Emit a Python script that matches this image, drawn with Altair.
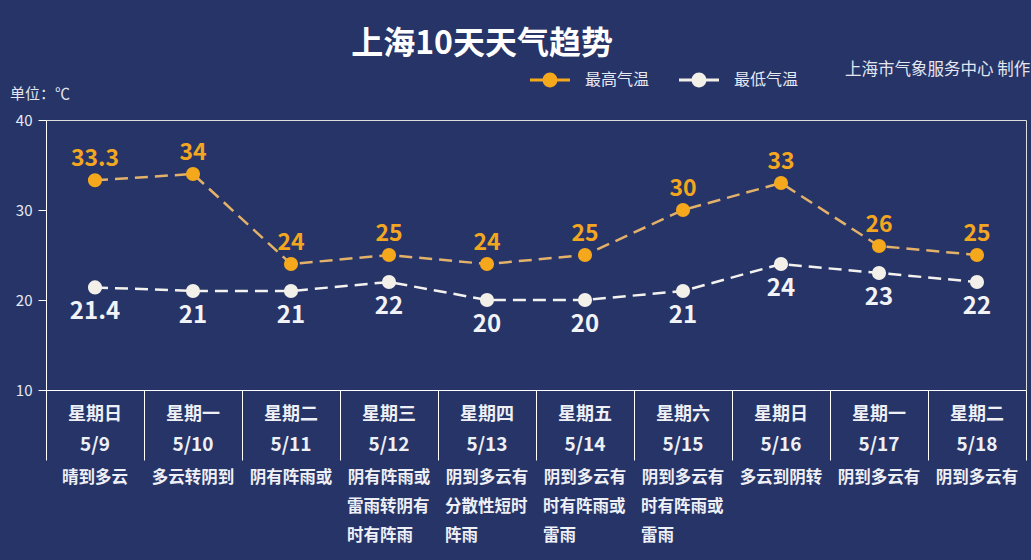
import altair as alt
import pandas as pd

# ---------------- data ----------------
title_text = "上海10天天气趋势"
unit_text = "单位：℃"
credit_text = "上海市气象服务中心 制作"
series_names = ["最高气温", "最低气温"]
dates = ["5/9", "5/10", "5/11", "5/12", "5/13", "5/14", "5/15", "5/16", "5/17", "5/18"]
weekdays = ["星期日", "星期一", "星期二", "星期三", "星期四", "星期五", "星期六", "星期日", "星期一", "星期二"]
high = [33.3, 34, 24, 25, 24, 25, 30, 33, 26, 25]
low = [21.4, 21, 21, 22, 20, 20, 21, 24, 23, 22]
desc1 = ["晴到多云", "多云转阴到", "阴有阵雨或", "阴有阵雨或", "阴到多云有", "阴到多云有",
         "阴到多云有", "多云到阴转", "阴到多云有", "阴到多云有"]
desc2 = ["", "", "", "雷雨转阴有", "分散性短时", "时有阵雨或", "时有阵雨或", "", "", ""]
desc3 = ["", "", "", "时有阵雨", "阵雨", "雷雨", "雷雨", "", "", ""]
y_ticks = [10, 20, 30, 40]

FONT = "Noto Sans CJK SC"
BG = "#263468"

days = pd.DataFrame({"date": dates, "weekday": weekdays, "high": high, "low": low,
                     "d1": desc1, "d2": desc2, "d3": desc3, "idx": list(range(len(dates)))})
long = pd.concat([
    pd.DataFrame({"date": dates, "value": high, "series": series_names[0], "idx": list(range(len(dates)))}),
    pd.DataFrame({"date": dates, "value": low, "series": series_names[1], "idx": list(range(len(dates)))}),
])
long["line_series"] = long["series"]

x_axis = alt.Axis(title=None, labels=False, tickBand="extent", tickSize=70, tickColor="#ffffff",
                  tickWidth=1, domainColor="#ffffff", domainWidth=1, grid=False)
x_enc = alt.X("date:N", sort=dates,
              scale=alt.Scale(type="band", domain=dates, paddingInner=0, paddingOuter=0),
              axis=x_axis)
y_axis = alt.Axis(title=None, values=y_ticks, grid=False, tickSize=8, tickColor="#ffffff",
                  domainColor="#ffffff", labelColor="#e8eaf2", labelFontSize=15, labelPadding=6,
                  labelFont=FONT)
y_scale = alt.Scale(domain=[10, 40], nice=False, zero=False)

legend_symbol = ("M-1,-0.07L-0.36,-0.07L-0.36,0.07L-1,0.07Z "
                 "M0.36,-0.07L1,-0.07L1,0.07L0.36,0.07Z "
                 "M0.37,0A0.37,0.37,0,1,1,-0.37,0A0.37,0.37,0,1,1,0.37,0Z")

lines = alt.Chart(long).mark_line(strokeWidth=2.5, strokeDash=[13, 7]).encode(
    x=x_enc,
    y=alt.Y("value:Q", scale=y_scale, axis=y_axis),
    stroke=alt.Stroke("line_series:N",
                      scale=alt.Scale(domain=series_names, range=["#e3b169", "#f4f2ee"]),
                      legend=None),
    order=alt.Order("idx:Q"),
)

points = alt.Chart(long).mark_circle(size=200, opacity=1).encode(
    x=x_enc,
    y=alt.Y("value:Q", scale=y_scale, axis=y_axis),
    fill=alt.Fill("series:N", scale=alt.Scale(domain=series_names, range=["#f5a81c", "#f3f0ea"]),
                  legend=alt.Legend(orient="none", legendX=484, legendY=-60, direction="horizontal",
                                    title=None, symbolType=legend_symbol, symbolSize=1600,
                                    symbolStrokeWidth=0, symbolOpacity=1, labelFontSize=16,
                                    labelColor="#e6e9f2", labelFont=FONT, labelOffset=15,
                                    columnPadding=29, padding=0)),
)

high_lbl = alt.Chart(days).mark_text(font=FONT, fontSize=23, fontWeight="bold", color="#f3a620",
                                     dy=-14, baseline="alphabetic").encode(
    x=x_enc, y=alt.Y("high:Q", scale=y_scale, axis=y_axis), text=alt.Text("high:Q"))
low_lbl = alt.Chart(days).mark_text(font=FONT, fontSize=24, fontWeight="bold", color="#f2f3f7",
                                    dy=32, baseline="alphabetic").encode(
    x=x_enc, y=alt.Y("low:Q", scale=y_scale, axis=y_axis), text=alt.Text("low:Q"))

wd_lbl = alt.Chart(days).mark_text(font=FONT, fontSize=18, fontWeight="bold", color="#eef0f6",
                                   baseline="middle").encode(x=x_enc, y=alt.value(295), text="weekday:N")
date_lbl = alt.Chart(days).mark_text(font=FONT, fontSize=19, fontWeight="bold", color="#eef0f6",
                                     baseline="middle").encode(x=x_enc, y=alt.value(325), text="date:N")
d1_lbl = alt.Chart(days).mark_text(font=FONT, fontSize=16.5, fontWeight="bold", color="#eef0f6",
                                   baseline="middle").encode(x=x_enc, y=alt.value(358), text="d1:N")
d2_lbl = alt.Chart(days).mark_text(font=FONT, fontSize=16.5, fontWeight="bold", color="#eef0f6",
                                   baseline="middle", align="left", dx=-42).encode(
    x=x_enc, y=alt.value(387), text="d2:N")
d3_lbl = alt.Chart(days).mark_text(font=FONT, fontSize=16.5, fontWeight="bold", color="#eef0f6",
                                   baseline="middle", align="left", dx=-42).encode(
    x=x_enc, y=alt.value(416), text="d3:N")

title = alt.Chart(pd.DataFrame({"t": [title_text]})).mark_text(
    font=FONT, fontSize=32, fontWeight="bold", color="#ffffff", align="center", baseline="alphabetic"
).encode(x=alt.value(436), y=alt.value(-66), text="t:N")
unit = alt.Chart(pd.DataFrame({"t": [unit_text]})).mark_text(
    font=FONT, fontSize=15, color="#e3e6ef", align="left", baseline="alphabetic"
).encode(x=alt.value(-36), y=alt.value(-21), text="t:N")
credit = alt.Chart(pd.DataFrame({"t": [credit_text]})).mark_text(
    font=FONT, fontSize=16.5, color="#e3e6ef", align="left", baseline="alphabetic"
).encode(x=alt.value(799), y=alt.value(-45), text="t:N")

chart = alt.layer(
    lines, points, high_lbl, low_lbl, wd_lbl, date_lbl, d1_lbl, d2_lbl, d3_lbl, title, unit, credit
).resolve_legend(fill="independent", stroke="independent").properties(
    width=980, height=270,
    autosize=alt.AutoSizeParams(type="none"),
    padding={"left": 46, "top": 120, "right": 5, "bottom": 170},
    background=BG,
).configure_view(stroke=None).configure(font=FONT)

chart.save("out.html", embed_options={"renderer": "svg", "actions": False})
